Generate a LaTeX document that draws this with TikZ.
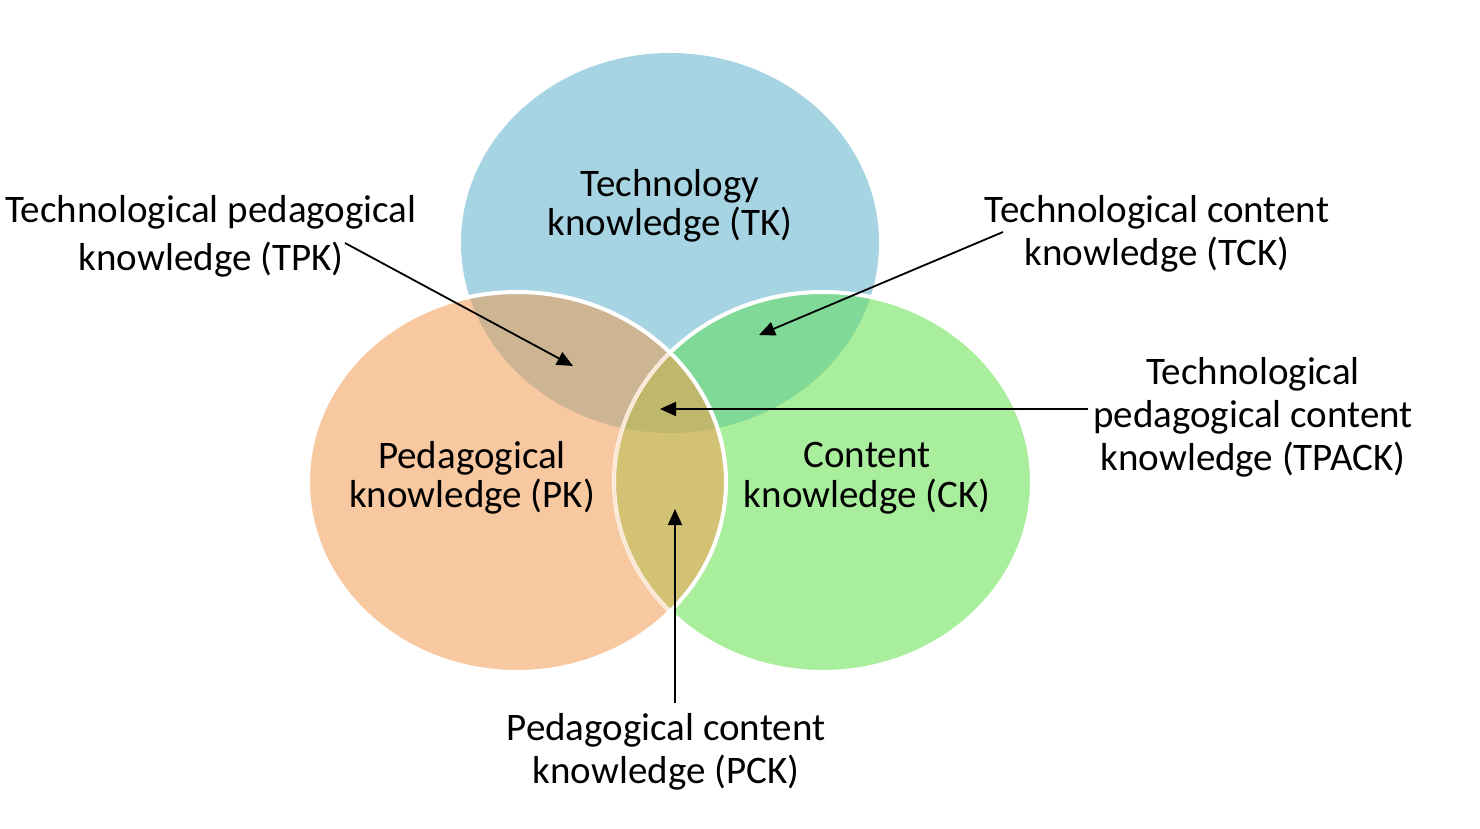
\documentclass[tikz,border=0pt]{standalone}
\usepackage{fontspec}
\setmainfont{Carlito}
\usetikzlibrary{arrows.meta}
\definecolor{tkblue}{HTML}{A6D4E3}
\definecolor{pkpeach}{HTML}{F8C8A0}
\definecolor{ckgreen}{HTML}{A9EE9C}
\definecolor{tpkbrown}{HTML}{CDB594}
\definecolor{tckgreen}{HTML}{80D996}
\definecolor{pckolive}{HTML}{D3C273}
\definecolor{tpackolive}{HTML}{BFB76B}
\begin{document}
\begin{tikzpicture}[x=0.5pt, y=-0.5pt,
        every node/.style={font=\fontsize{19.5}{19.5}\selectfont, align=center, inner sep=0pt},
        outer/.style={font=\fontsize{19.5}{21.5}\selectfont},
        pointer/.style={-{Triangle[length=8pt,width=7pt]}, line width=0.9pt}]
        \useasboundingbox (0,0) rectangle (1480,829);
        \coordinate (tk) at (670,243);
        \coordinate (pk) at (517,482);
        \coordinate (ck) at (823,482);
        % single sets
        \fill[tkblue] (tk) ellipse [x radius=209, y radius=190];
        \fill[ckgreen] (ck) ellipse [x radius=209, y radius=190];
        \fill[pkpeach] (pk) ellipse [x radius=209, y radius=190];
        % overlaps
        \begin{scope}
        \clip (tk) ellipse [x radius=209, y radius=190];
        \fill[tpkbrown] (pk) ellipse [x radius=209, y radius=190];
        \fill[tckgreen] (ck) ellipse [x radius=209, y radius=190];
        \end{scope}
        \begin{scope}
        \clip (pk) ellipse [x radius=209, y radius=190];
        \fill[pckolive] (ck) ellipse [x radius=209, y radius=190];
        \clip (tk) ellipse [x radius=209, y radius=190];
        \fill[tpackolive] (ck) ellipse [x radius=209, y radius=190];
        \end{scope}
        % outlines
        \draw[white, line width=2pt] (ck) ellipse [x radius=209, y radius=190];
        \begin{scope}
        \clip (pk) ellipse [x radius=209, y radius=190];
        \draw[pkpeach!45!white, line width=1.5pt] (ck) ellipse [x radius=209, y radius=190];
        \end{scope}
        \draw[white, line width=2pt] (pk) ellipse [x radius=209, y radius=190];
        % labels
        \node[font=\fontsize{19.5}{19.8}\selectfont] (tklabel) at (670,206) {Technology\\knowledge (TK)};
        \node[font=\fontsize{19.5}{19.8}\selectfont] (pklabel) at (472,478) {Pedagogical\\knowledge (PK)};
        \node[font=\fontsize{19.5}{19.8}\selectfont] (cklabel) at (867,478) {Content\\knowledge (CK)};
        \node[outer, font=\fontsize{19.5}{24}\selectfont] (tpk) at (211,236) {Technological pedagogical\\knowledge (TPK)};
        \node[outer] (tck) at (1157,234) {Technological content\\knowledge (TCK)};
        \node[outer] (tpack) at (1253,417) {Technological\\pedagogical content\\knowledge (TPACK)};
        \node[outer] (pck) at (666,752) {Pedagogical content\\knowledge (PCK)};
        % arrows
        \coordinate (tpk-from) at (345,243);
        \coordinate (tpk-tip) at (573,366);
        \coordinate (tck-from) at (1003,232);
        \coordinate (tck-tip) at (759,335);
        \coordinate (tpack-from) at (1088,409);
        \coordinate (tpack-tip) at (660,409);
        \coordinate (pck-from) at (675,703);
        \coordinate (pck-tip) at (675,509);
        \draw[pointer] (tpk-from) -- (tpk-tip);
        \draw[pointer] (tck-from) -- (tck-tip);
        \draw[pointer] (tpack-from) -- (tpack-tip);
        \draw[pointer] (pck-from) -- (pck-tip);
\end{tikzpicture}
\end{document}
